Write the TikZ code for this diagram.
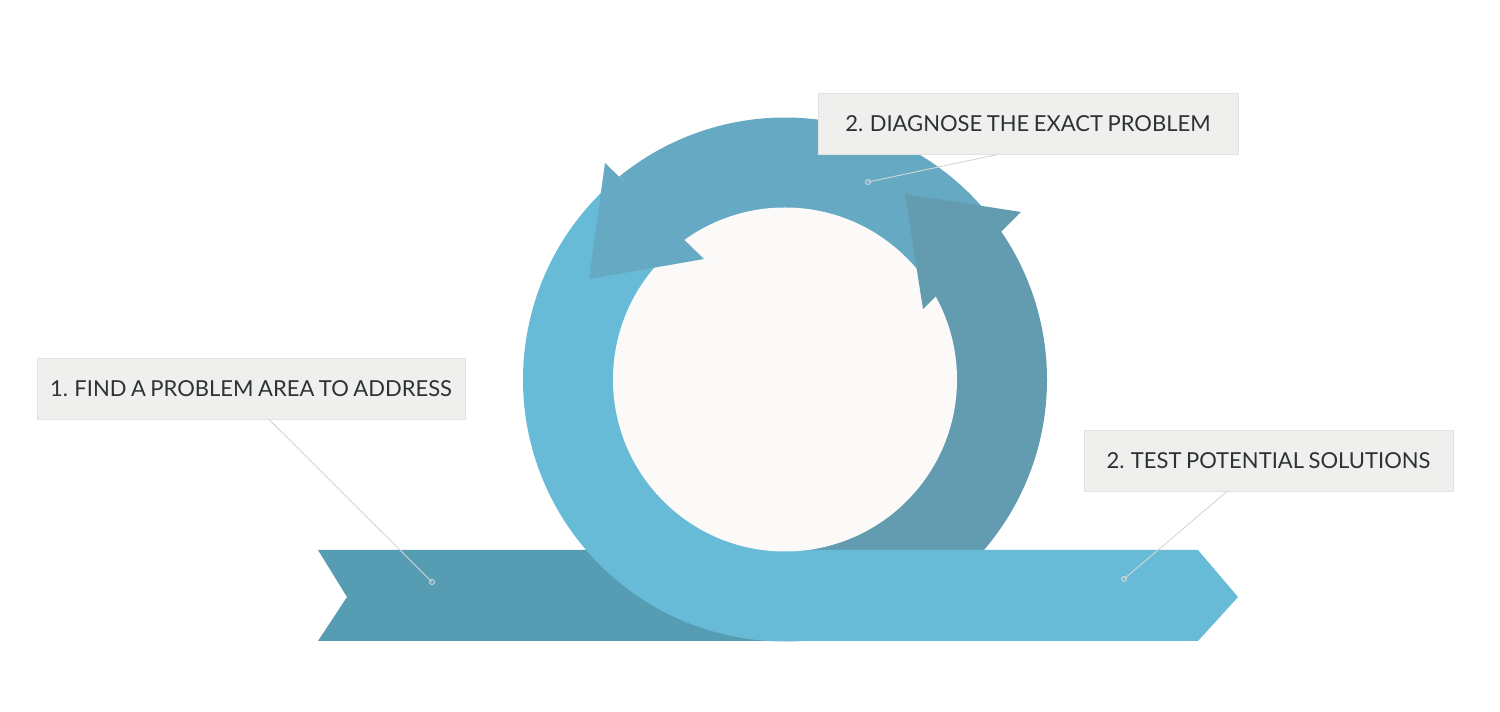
\documentclass[tikz,border=0pt]{standalone}
\usepackage{fontspec}
\setmainfont[WordSpace=0.8]{Lato}
\usetikzlibrary{calc}
\definecolor{lightblue}{HTML}{67BBD6}
\definecolor{midblue}{HTML}{65AAC2}
\definecolor{darkblue}{HTML}{639CB0}
\definecolor{bandblue}{HTML}{569CB3}
\definecolor{innerc}{HTML}{FBFAF9}
\definecolor{boxfill}{HTML}{EFEFEE}
\definecolor{boxline}{HTML}{E2E2E2}
\definecolor{leader}{HTML}{D6D6D6}
\definecolor{txt}{HTML}{2C3236}
\begin{document}
\begin{tikzpicture}[x=1pt,y=1pt,
  labelbox/.style={fill=boxfill,draw=boxline,line width=0.8pt,minimum height=61pt,inner sep=0pt,
    text=txt,font=\fontsize{22}{26}\selectfont},
  leaderline/.style={draw=leader,line width=0.9pt},
  leaderdot/.style={draw=leader,line width=0.9pt,fill=none}]
\useasboundingbox (0,0) rectangle (1500,712);
\fill[white] (0,0) rectangle (1500,712);
\coordinate (C) at (785,332.5);
% left band
\fill[bandblue] (318,162) -- (785,162) -- (785,71) -- (318,71) -- (347,115) -- cycle;
% ring wedges
\fill[darkblue] (C) -- ++(-90:262) arc[start angle=-90,end angle=34.5,radius=262] -- cycle;
\fill[midblue] (C) -- ++(34.5:262) arc[start angle=34.5,end angle=129.1,radius=262] -- cycle;
\fill[lightblue] (C) -- ++(129.1:262) arc[start angle=129.1,end angle=270,radius=262] -- cycle;
% right band
\fill[lightblue] (785,162) -- (1198,162) -- (1238,115) -- (1198,71) -- (785,71) -- cycle;
% inner circle
\fill[innerc] (C) circle[radius=172];
% arrowheads
\fill[midblue] (605,549) -- (704,453) -- (589,433) -- cycle;
\fill[darkblue] (905,518) -- (1021,500) -- (923,403) -- cycle;
% labels
\node[labelbox,minimum width=428pt] (b1) at (251,323.5) {1. FIND A PROBLEM AREA TO ADDRESS};
\node[labelbox,minimum width=420pt] (b2) at (1028,588.5) {2. DIAGNOSE THE EXACT PROBLEM};
\node[labelbox,minimum width=369pt] (b3) at (1268.5,251.5) {2. TEST POTENTIAL SOLUTIONS};
% leader ends
\coordinate (d1) at (432,130);
\coordinate (d2) at (868,530);
\coordinate (d3) at (1124,133);
\draw[leaderline] ($(b1.south)+(18,0)$) -- (d1);
\draw[leaderline] ($(b2.south)+(-30,0)$) -- (d2);
\draw[leaderline] ($(b3.south)+(-41.5,0)$) -- (d3);
\draw[leaderdot] (d1) circle[radius=2.5];
\draw[leaderdot] (d2) circle[radius=2.5];
\draw[leaderdot] (d3) circle[radius=2.5];
\end{tikzpicture}
\end{document}
